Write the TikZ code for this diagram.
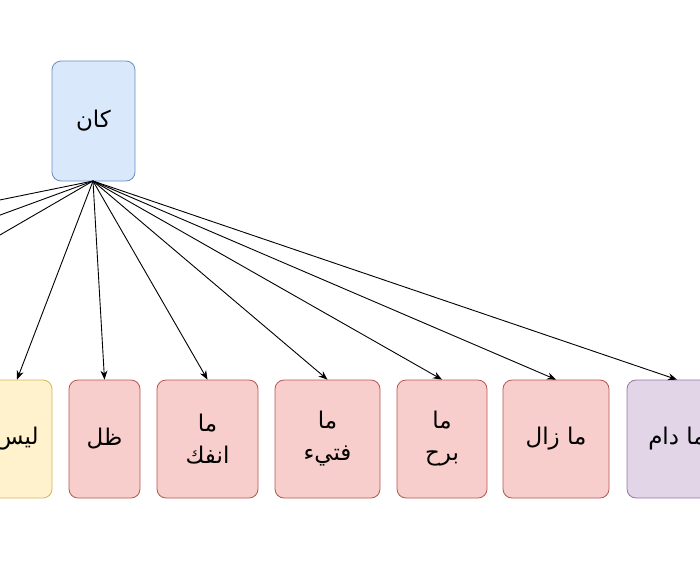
\documentclass[tikz,border=0pt]{standalone}
\usepackage{fontspec}
\usetikzlibrary{arrows.meta}
\newfontfamily\arabicfont[Script=Arabic]{DejaVu Sans}
\TeXXeTstate=1
\newcommand{\ar}[1]{{\arabicfont\beginR #1\endR}}
\begin{document}
\begin{tikzpicture}[x=1pt,y=-1pt,
  box/.style={draw,rounded corners=9pt,line width=0.8pt,align=center,inner sep=0pt,font=\fontsize{23}{32}\selectfont},
  blue/.style={box,fill={rgb,255:red,218;green,232;blue,252},draw={rgb,255:red,108;green,142;blue,191}},
  red/.style={box,fill={rgb,255:red,248;green,206;blue,204},draw={rgb,255:red,184;green,84;blue,80}},
  yel/.style={box,fill={rgb,255:red,255;green,242;blue,204},draw={rgb,255:red,214;green,182;blue,86}},
  pur/.style={box,fill={rgb,255:red,225;green,213;blue,231},draw={rgb,255:red,150;green,115;blue,166}},
  arr/.style={-{Stealth[length=9pt,width=7pt]},line width=0.9pt}]
\useasboundingbox (0,0) rectangle (700,560);
\clip (0,0) rectangle (700,560);
\node[blue,minimum width=83pt,minimum height=120pt] (kan) at (93.5,121) {\ar{كان}};
\node[yel,minimum width=70pt,minimum height=118pt] (lays) at (17,439) {\ar{ليس}};
\node[red,minimum width=71pt,minimum height=118pt] (zal) at (104.5,439) {\ar{ظل}};
\node[red,minimum width=101pt,minimum height=118pt] (infak) at (207.5,439) {\ar{ما}\\\ar{انفك}};
\node[red,minimum width=105pt,minimum height=118pt] (fati) at (327.5,439) {\ar{ما}\\\ar{فتيء}};
\node[red,minimum width=90pt,minimum height=118pt] (bariha) at (442,439) {\ar{ما}\\\ar{برح}};
\node[red,minimum width=106pt,minimum height=118pt] (zaal) at (556,439) {\ar{ما زال}};
\node[pur,minimum width=100pt,minimum height=118pt] (daam) at (677,439) {\ar{ما دام}};
\coordinate (src) at (93,181);
\coordinate (o1) at (-300,261);
\coordinate (o2) at (-300,325);
\coordinate (o3) at (-300,409);
\foreach \t in {o1,o2,o3} \draw[arr] (src) -- (\t);
\draw[arr] (src) -- (lays.north);
\draw[arr] (src) -- (zal.north);
\draw[arr] (src) -- (infak.north);
\draw[arr] (src) -- (fati.north);
\draw[arr] (src) -- (bariha.north);
\draw[arr] (src) -- (zaal.north);
\draw[arr] (src) -- (daam.north);
\end{tikzpicture}
\end{document}
